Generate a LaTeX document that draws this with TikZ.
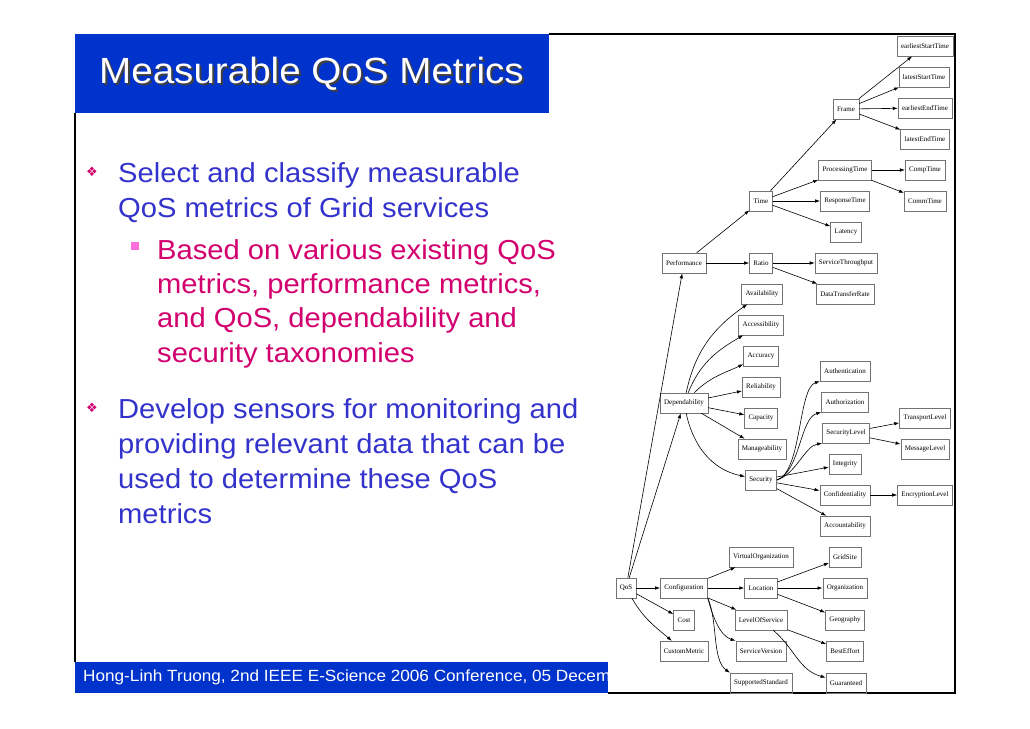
\documentclass[tikz,border=0pt]{standalone}
\usepackage{fontspec}
\setmainfont{Liberation Sans}
\newfontfamily\slidefont[FakeStretch=1.06]{Liberation Sans}
\newfontfamily\treefont{Liberation Serif}
\newfontfamily\symfont{DejaVu Sans}
\usepackage{tikz}
\usetikzlibrary{arrows.meta,positioning}

\definecolor{slideblue}{RGB}{0,51,204}
\definecolor{itemblue}{RGB}{51,51,204}
\definecolor{subred}{RGB}{210,0,110}
\definecolor{subpink}{RGB}{255,110,220}

\begin{document}
\begin{tikzpicture}[x=1pt,y=1pt,every node/.style={inner sep=0}]
  \tikzstyle{box} = [draw=black!55, line width=0.5pt, inner xsep=4pt,
      minimum height=20pt, font=\treefont\fontsize{7}{8}\selectfont]
  \tikzstyle{arr} = [-{Latex[length=5pt,width=3.5pt]}, line width=0.6pt]
  % multi-line nodes: base anchor sits on the last line
  \tikzstyle{item} = [anchor=base west, align=left, text=itemblue,
      font=\slidefont\fontsize{27.5}{35}\selectfont]
  \tikzstyle{subitem} = [anchor=base west, align=left, text=subred,
      font=\slidefont\fontsize{27.5}{34.2}\selectfont]
  \tikzstyle{bulletmark} = [text=subred, font=\symfont\fontsize{13}{13}\selectfont]

  \useasboundingbox (0,0) rectangle (1030,-728);

  % slide frame, title bar and footer bar
  \fill[slideblue] (75,-34) rectangle (549,-113);
  \fill[slideblue] (75,-662) rectangle (608,-693);
  \draw[line width=1.1pt] (75,-113) -- (75,-662);
  \draw[line width=1.1pt] (549,-34) -- (955,-34) -- (955,-693) -- (608,-693);

  \node (titleshadow) [anchor=base west, text=black!75,
      font=\slidefont\fontsize{36.4}{40}\selectfont] at (101,-85) {Measurable QoS Metrics};
  \node (title) [anchor=base west, text=white,
      font=\slidefont\fontsize{36.4}{40}\selectfont] at (99,-83) {Measurable QoS Metrics};

  \begin{scope}
    \clip (75,-662) rectangle (608,-693);
    \node (footer) [anchor=west, text=white, font=\slidefont\fontsize{16.2}{18}\selectfont]
        at (83,-677) {Hong-Linh Truong, 2nd IEEE E-Science 2006 Conference, 05 December 2006};
  \end{scope}

  % bullet text
  \node (markA) [bulletmark] at (92,-172) {❖};
  \node (itemA) [item] at (118,-217) {Select and classify measurable\\QoS metrics of Grid services};
  \fill[subpink] (131,-242) rectangle (139,-250);
  \node (subA) [subitem] at (157,-362) {Based on various existing QoS\\metrics, performance metrics,\\and QoS, dependability and\\security taxonomies};
  \node (markB) [bulletmark] at (92,-408) {❖};
  \node (itemB) [item] at (118,-523) {Develop sensors for monitoring and\\providing relevant data that can be\\used to determine these QoS\\metrics};

  % QoS tree
  \node (qos)      [box] at (626,-588) {QoS};
  \node (perf)     [box] at (684,-263) {Performance};
  \node (dep)      [box] at (684,-403) {Dependability};
  \node (config)   [box] at (684,-588) {Configuration};
  \node (cost)     [box] at (684,-620) {Cost};
  \node (custom)   [box] at (684,-651) {CustomMetric};

  \node (time)     [box] at (761,-201) {Time};
  \node (ratio)    [box] at (761,-263) {Ratio};
  \node (frame)    [box] at (846,-109) {Frame};
  \node (est)      [box] at (925,-46)  {earliestStartTime};
  \node (lst)      [box] at (924,-77)  {latestStartTime};
  \node (eet)      [box] at (925,-108) {earliestEndTime};
  \node (let)      [box] at (925,-139) {latestEndTime};
  \node (proc)     [box] at (845,-170) {ProcessingTime};
  \node (comp)     [box] at (925,-170) {CompTime};
  \node (comm)     [box] at (925,-201) {CommTime};
  \node (resp)     [box] at (845,-201) {ResponseTime};
  \node (lat)      [box] at (846,-232) {Latency};
  \node (through)  [box] at (846,-263) {ServiceThroughput};
  \node (transfer) [box] at (845,-294) {DataTransferRate};

  \node (avail)    [box] at (762,-294) {Availability};
  \node (access)   [box] at (761,-325) {Accessibility};
  \node (accur)    [box] at (761,-356) {Accuracy};
  \node (reli)     [box] at (761,-387) {Reliability};
  \node (capa)     [box] at (761,-418) {Capacity};
  \node (manage)   [box] at (762,-449) {Manageability};
  \node (secur)    [box] at (761,-480) {Security};
  \node (authen)   [box] at (845,-371) {Authentication};
  \node (author)   [box] at (845,-402) {Authorization};
  \node (seclevel) [box] at (846,-433) {SecurityLevel};
  \node (integ)    [box] at (845,-464) {Integrity};
  \node (confid)   [box] at (845,-495) {Confidentiality};
  \node (account)  [box] at (845,-526) {Accountability};
  \node (transp)   [box] at (925,-418) {TransportLevel};
  \node (message)  [box] at (925,-449) {MessageLevel};
  \node (encrypt)  [box] at (925,-495) {EncryptionLevel};

  \node (vo)       [box] at (761,-557) {VirtualOrganization};
  \node (loc)      [box] at (761,-588) {Location};
  \node (los)      [box] at (761,-620) {LevelOfService};
  \node (sversion) [box] at (761,-651) {ServiceVersion};
  \node (sstd)     [box] at (761,-683) {SupportedStandard};
  \node (grid)     [box] at (845,-557) {GridSite};
  \node (org)      [box] at (845,-588) {Organization};
  \node (geo)      [box] at (845,-620) {Geography};
  \node (best)     [box] at (845,-651) {BestEffort};
  \node (guar)     [box] at (846,-683) {Guaranteed};

  \draw[arr] (qos) -- (perf);
  \draw[arr] (qos) -- (dep);
  \draw[arr] (qos) -- (config);
  \draw[arr] (qos) -- (cost);
  \draw[arr] (qos) to[out=-60,in=140] (custom);

  \draw[arr] (perf) -- (time);
  \draw[arr] (perf) -- (ratio);
  \draw[arr] (time) -- (frame);
  \draw[arr] (time) -- (proc);
  \draw[arr] (time) -- (resp);
  \draw[arr] (time) -- (lat);
  \draw[arr] (frame) -- (est);
  \draw[arr] (frame) -- (lst);
  \draw[arr] (frame) -- (eet);
  \draw[arr] (frame) -- (let);
  \draw[arr] (proc) -- (comp);
  \draw[arr] (proc) -- (comm);
  \draw[arr] (ratio) -- (through);
  \draw[arr] (ratio) -- (transfer);

  \draw[arr] (dep) to[out=78,in=215] (avail);
  \draw[arr] (dep) to[out=68,in=210] (access);
  \draw[arr] (dep) to[out=45,in=205] (accur);
  \draw[arr] (dep) -- (reli);
  \draw[arr] (dep) -- (capa);
  \draw[arr] (dep) -- (manage);
  \draw[arr] (dep) to[out=-78,in=168] (secur);
  % security edges bend up just right of the Manageability box
  \draw[arr] (secur.east) .. controls (802,-472) and (798,-388) .. (authen.south west);
  \draw[arr] (secur.east) .. controls (800,-472) and (800,-418) .. (author.south west);
  \draw[arr] (secur.east) .. controls (796,-474) and (805,-446) .. (seclevel.south west);
  \draw[arr] (secur) -- (integ);
  \draw[arr] (secur) -- (confid);
  \draw[arr] (secur) -- (account);
  \draw[arr] (seclevel) -- (transp);
  \draw[arr] (seclevel) -- (message);
  \draw[arr] (confid) -- (encrypt);

  \draw[arr] (config) -- (vo);
  \draw[arr] (config) -- (loc);
  \draw[arr] (config) -- (los);
  % these two pass right of the Cost box
  \draw[arr] (config.south east) .. controls (712,-615) and (720,-636) .. (sversion.north west);
  \draw[arr] (config.south east) .. controls (718,-622) and (712,-660) .. (sstd.north west);
  \draw[arr] (loc) -- (grid);
  \draw[arr] (loc) -- (org);
  \draw[arr] (loc) -- (geo);
  \draw[arr] (los) -- (best);
  \draw[arr] (los) to[out=-40,in=165] (guar);
\end{tikzpicture}
\end{document}
